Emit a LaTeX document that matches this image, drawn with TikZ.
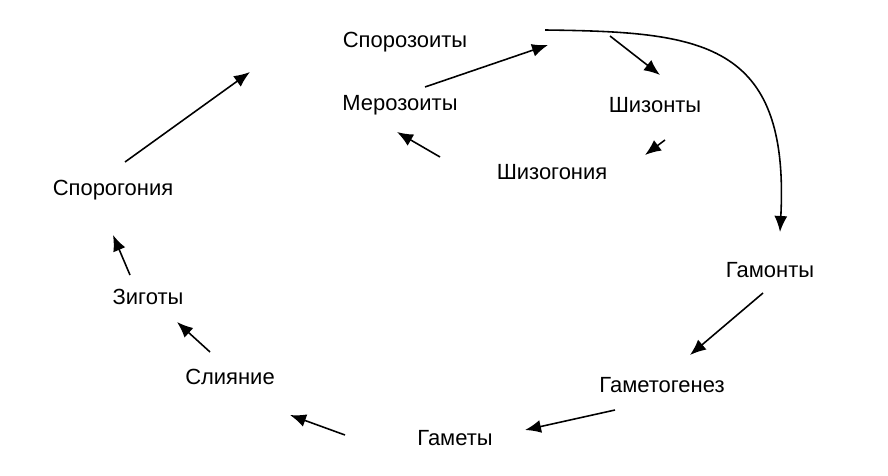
\documentclass[tikz,border=0pt]{standalone}
\usepackage{fontspec}
\setmainfont{Liberation Sans}
\usetikzlibrary{arrows.meta, positioning, calc}

\tikzset{
    stage/.style={font=\fontsize{12.5}{14}\selectfont, inner sep=1pt},
    cycarrow/.style={-{Latex[length=3.2mm,width=2.6mm]}, line width=0.9pt}
}

\begin{document}
\begin{tikzpicture}[x=0.02cm, y=-0.02cm]
    \useasboundingbox (0,0) rectangle (888,476);

    % Stages of the cycle
    \node[stage] (sporoz) at (405,42)  {Спорозоиты};
    \node[stage] (meroz)  at (400,105) {Мерозоиты};
    \node[stage] (shizon) at (655,105) {Шизонты};
    \node[stage] (shizog) at (552,172) {Шизогония};
    \node[stage] (sporog) at (113,190) {Спорогония};
    \node[stage] (gamon)  at (770,270) {Гамонты};
    \node[stage] (zigot)  at (148,297) {Зиготы};
    \node[stage] (sliyan) at (230,377) {Слияние};
    \node[stage] (gamgen) at (662,385) {Гаметогенез};
    \node[stage] (gamet)  at (455,438) {Гаметы};

    % Arrow ends
    \coordinate (top) at (545,30);
    \coordinate (branch) at (610,36);

    % Arrows
    \draw[cycarrow] (125,162) -- (250,72);
    \draw[cycarrow] (425,87) -- (548,45);
    \draw[cycarrow] (top) .. controls (700,32) and (790,40) .. (780,232);
    \draw[cycarrow] (branch) -- (660,75);
    \draw[cycarrow] (665,140) -- (645,155);
    \draw[cycarrow] (440,157) -- (397,132);
    \draw[cycarrow] (763,293) -- (690,355);
    \draw[cycarrow] (615,410) -- (525,430);
    \draw[cycarrow] (345,435) -- (290,415);
    \draw[cycarrow] (210,352) -- (177,322);
    \draw[cycarrow] (130,275) -- (113,235);
\end{tikzpicture}
\end{document}
